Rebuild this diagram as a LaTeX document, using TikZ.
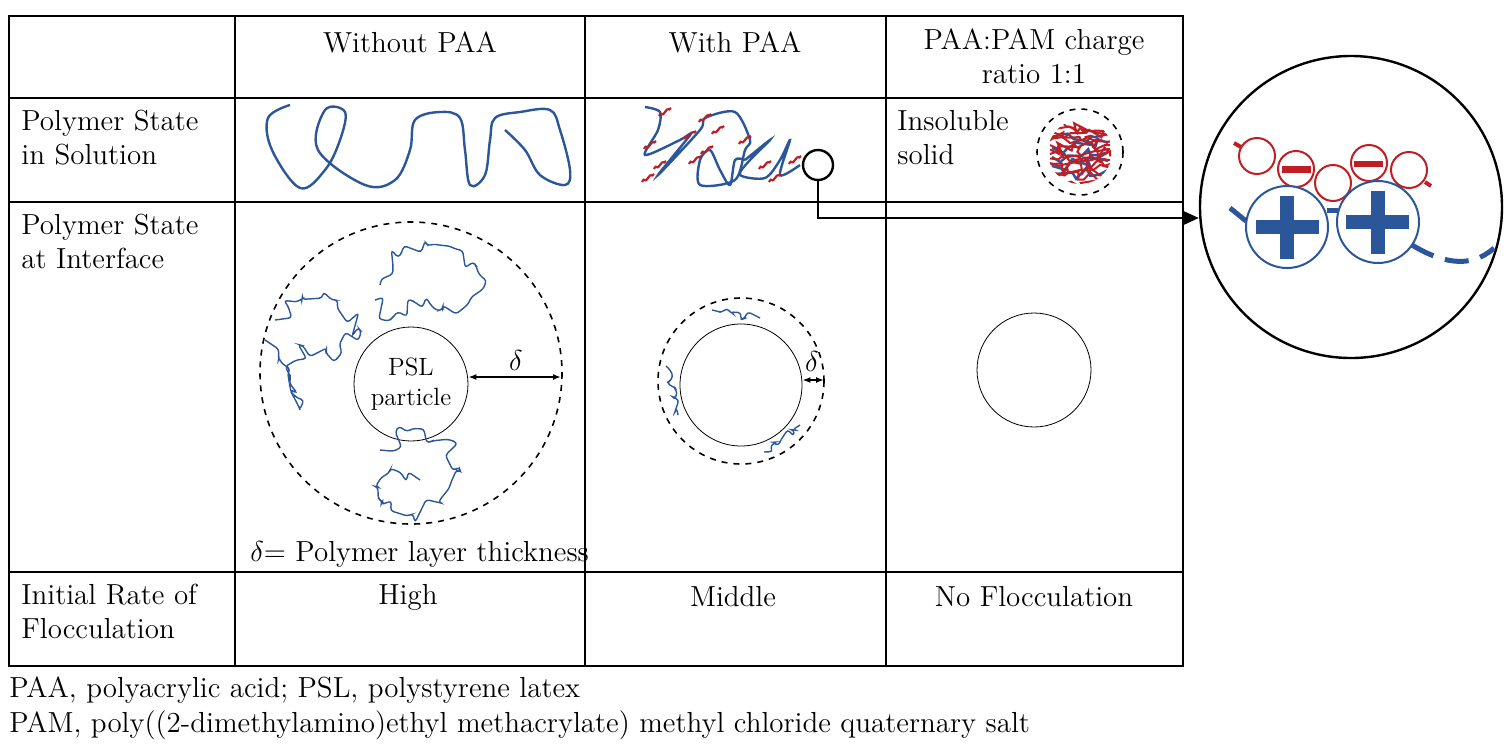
\documentclass[tikz,border=0pt]{standalone}
\usetikzlibrary{arrows.meta,decorations.pathmorphing}
\definecolor{pblue}{RGB}{43,87,154}
\definecolor{pred}{RGB}{192,30,36}
\begin{document}
\fontsize{14.5}{17}\selectfont
\begin{tikzpicture}[x=0.5pt,y=-0.5pt,
  grid/.style={line width=0.8pt},
  lab/.style={anchor=north west,align=left,inner sep=0pt},
  hdr/.style={align=center,inner sep=0pt},
  chain/.style={pblue,line width=1.2pt},
  coil/.style={pblue,line width=0.7pt,decorate,decoration={random steps,segment length=3.5pt,amplitude=5pt},rounded corners=1.5pt},
  paa/.style={pred,line width=1.1pt},
  dashc/.style={dashed,line width=0.8pt},
  dim/.style={{Latex[length=4pt]}-{Latex[length=4pt]},line width=0.8pt}]
\useasboundingbox (0,0) rectangle (1509,745);
% grid
\draw[grid] (9,16) rectangle (1183,666);
\foreach \y in {98,202,572} \draw[grid] (9,\y) -- (1183,\y);
\foreach \x in {235,585,886} \draw[grid] (\x,16) -- (\x,666);
% headers
\node[hdr] (h1) at (410,42) {Without PAA};
\node[hdr] (h2) at (735,42) {With PAA};
\node[hdr] (h3) at (1034,56) {PAA:PAM charge\\ratio 1:1};
\node[lab] (r1) at (21,110) {Polymer State\\in Solution};
\node[lab] (r2) at (21,214) {Polymer State\\at Interface};
\node[lab] (r3) at (21,584) {Initial Rate of\\Flocculation};
\node[hdr] (v1) at (408,597) {High};
\node[hdr] (v2) at (733,597) {Middle};
\node[hdr] (v3) at (1034,597) {No Flocculation};
\node[lab] (ins) at (897,110) {Insoluble\\solid};
\node[lab] (f1) at (9,676) {PAA, polyacrylic acid; PSL, polystyrene latex};
\node[lab] (f2) at (9,710) {PAM, poly((2-dimethylamino)ethyl methacrylate) methyl chloride quaternary salt};
% without PAA chain
\draw[chain] plot[smooth,tension=0.6] coordinates {(290,105)(268,118)(272,150)(300,188)(325,170)(340,140)(345,112)(325,110)(318,150)(365,185)(395,180)(410,150)(415,120)(440,112)(460,118)(465,150)(470,185)(485,175)(490,140)(495,118)(520,112)(550,110)(560,130)(570,170)(565,185)(540,175)(525,150)(505,130)};
% with PAA chain
\draw[chain] plot[smooth,tension=0.5] coordinates {(645,107)(660,112)(658,130)(645,155)(680,140)(690,135)(658,175)(700,130)(705,118)(735,112)(750,140)(745,150)(735,180)(700,185)(700,160)(710,150)(720,170)(730,185)(735,160)(745,160)};
\draw[chain] plot[smooth,tension=0.5] coordinates {(745,160)(770,140)(750,160)(740,175)(765,178)(780,160)(790,140)(780,175)(800,165)};
\foreach \p in {(665,112),(650,145),(690,135),(660,165),(705,118),(707,150),(718,130),(695,160),(745,140),(765,165),(775,178),(795,160),(648,178)}
  \draw[paa] \p ++(-6,4) .. controls +(3,-6) and +(-4,6) .. ++(6,-4) .. controls +(4,-6) and +(-3,4) .. ++(6,-4);
% mess
\pgfmathsetseed{3}
\begin{scope}
\clip (1080,152) circle (32);
\foreach \i in {1,...,5} \draw[pblue,line width=1.2pt,decorate,decoration={random steps,segment length=4pt,amplitude=3pt}] (1052,130+\i*9) -- (1108,125+\i*9);
\foreach \i in {1,...,14} \draw[paa,line width=1pt,decorate,decoration={random steps,segment length=3pt,amplitude=3pt}] (1050,118+\i*4.5) -- (1110,126+\i*3.8);
\end{scope}
\draw[dashc] (1080,152) circle (43);
% zoom marker
\node[draw,circle,minimum size=15pt,line width=1.2pt,inner sep=0pt] (zc) at (818,165) {};
\node[draw,circle,minimum size=151pt,line width=1.2pt,inner sep=0pt] (big) at (1351,207) {};
\coordinate (bend) at (818,218);
\draw[line width=1.2pt,-{Triangle[length=8pt,width=7pt]}] (zc.south) -- (bend) -- (big.west|-bend);
% magnified
\begin{scope}[pred,line width=1pt]
\draw[line width=2pt] (1234,143) -- (1241,147);
\draw (1257,156) circle (18);
\draw (1296,169) circle (18);
\draw (1333,183) circle (18);
\draw (1369,163) circle (18);
\draw (1409,170) circle (18);
\draw[line width=2pt] (1425,182) -- (1431,186);
\fill (1282,166) rectangle (1311,173);
\fill (1354,161) rectangle (1383,167);
\end{scope}
\begin{scope}[pblue]
\draw[line width=2.5pt] (1230,208) -- (1246,221);
\draw[line width=2.5pt] (1327,210) -- (1338,210);
\draw[line width=2.5pt,dash pattern=on 12pt off 6pt] (1412,245) .. controls (1440,262) and (1470,270) .. (1494,248);
\draw[line width=1pt,fill=white] (1287,227) circle (41);
\draw[line width=1pt,fill=white] (1378,222) circle (41);
\fill (1256,220) rectangle (1319,234);
\fill (1280,196) rectangle (1294,259);
\fill (1346,215) rectangle (1409,229);
\fill (1371,191) rectangle (1385,254);
\end{scope}
% interface: without PAA
\draw[dashc] (411,373) circle (151);
\node[draw,circle,minimum size=57pt,inner sep=0pt,align=center,font=\fontsize{12.5}{15}\selectfont] (p1) at (411,384) {PSL\\particle};
\coordinate (e1) at (561,377);
\draw[dim] (p1.east|-e1) -- (e1);
\node (d1) at (516,360) {$\delta$};
\node[lab] (leg) at (250,541) {$\delta$= Polymer layer thickness};
\pgfmathsetseed{7}
\draw[coil] (380,285) -- (400,255) -- (430,245) -- (460,250) -- (480,275) -- (470,300) -- (440,310) -- (410,300) -- (390,320) -- (375,300);
\draw[coil] (275,320) -- (300,300) -- (335,300) -- (360,330) -- (340,355) -- (300,345) -- (290,380) -- (300,410) -- (280,360) -- (265,340);
\draw[coil] (380,450) -- (410,430) -- (450,440) -- (460,470) -- (440,500) -- (410,515) -- (380,500) -- (390,470) -- (420,480);
% with PAA interface
\draw[dashc] (741,381) circle (83);
\node[draw,circle,minimum size=61pt,inner sep=0pt] (p2) at (741,385) {};
\coordinate (e2) at (824,380);
\draw[dim] (p2.east|-e2) -- (e2);
\node (d2) at (812,361) {$\delta$};
\draw[coil,decoration={random steps,segment length=2pt,amplitude=2.5pt}] (712,310) -- (760,318);
\draw[coil,decoration={random steps,segment length=2pt,amplitude=2.5pt}] (666,366) -- (678,415);
\draw[coil,decoration={random steps,segment length=2pt,amplitude=2.5pt}] (764,452) -- (800,425);
% right column
\node[draw,circle,minimum size=57pt,inner sep=0pt] (p3) at (1034,370) {};
\end{tikzpicture}
\end{document}
